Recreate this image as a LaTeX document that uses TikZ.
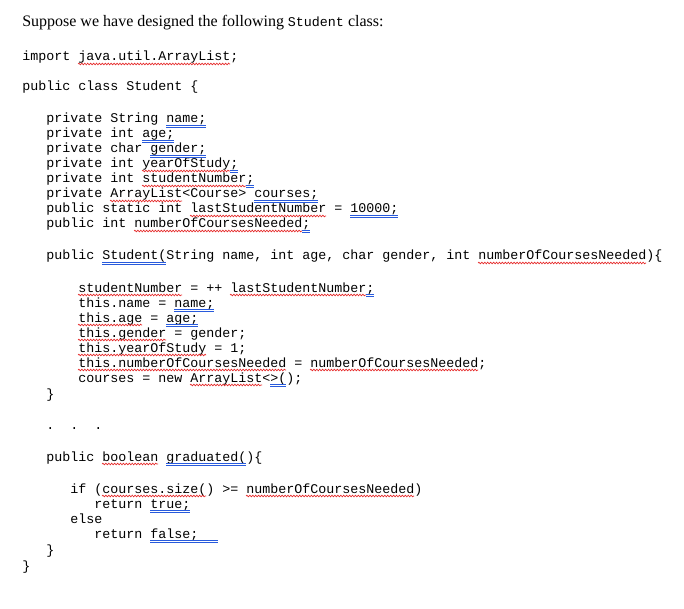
\documentclass[tikz,border=0pt]{standalone}
\usepackage{fontspec}
\setmainfont{Liberation Serif}
\setmonofont{Liberation Mono}
\usetikzlibrary{decorations.pathmorphing}
\definecolor{spellred}{RGB}{230,40,40}
\definecolor{grammarblue}{RGB}{40,90,220}
\newcommand\wv[4]{\draw[wavyline] ({#1+8*#2},{#4+7}) -- ({#1+8*#3},{#4+7});}
\newcommand\db[4]{\draw[dblline] ({#1+8*#2},{#4+6}) -- ({#1+8*#3},{#4+6});
  \draw[dblline] ({#1+8*#2},{#4+8.5}) -- ({#1+8*#3},{#4+8.5});}
\begin{document}
\begin{tikzpicture}[x=0.75pt,y=-0.75pt,
                   code/.style={anchor=base west, inner sep=0pt, font=\ttfamily\fontsize{10}{12}\selectfont},
                   wavyline/.style={spellred, line width=0.5pt, decorate, decoration={snake, amplitude=0.6pt, segment length=2.2pt}},
                   dblline/.style={grammarblue, line width=0.6pt}]
\useasboundingbox[fill=white] (0,0) rectangle (684,609);
\node[anchor=base west, inner sep=0pt, font=\fontsize{12}{14}\selectfont] (title) at (22,27)
	{Suppose we have designed the following \texttt{\fontsize{10}{12}\selectfont Student} class:};
% header
\node[code] (imp) at (22,61) {import java.util.ArrayList;};
\node[code] (cls) at (22,91) {public class Student \{};
% fields
\node[code] (f1) at (46,123) {private String name;};
\node[code] (f2) at (46,138) {private int age;};
\node[code] (f3) at (46,153) {private char gender;};
\node[code] (f4) at (46,168) {private int yearOfStudy;};
\node[code] (f5) at (46,183) {private int studentNumber;};
\node[code] (f6) at (46,198) {private ArrayList<Course> courses;};
\node[code] (f7) at (46,213) {public static int lastStudentNumber = 10000;};
\node[code] (f8) at (46,228) {public int numberOfCoursesNeeded;};
% constructor
\node[code] (ctor) at (46,260) {public Student(String name, int age, char gender, int numberOfCoursesNeeded)\{};
\node[code] (b1) at (78,292) {studentNumber = ++ lastStudentNumber;};
\node[code] (b2) at (78,307) {this.name = name;};
\node[code] (b3) at (78,322) {this.age = age;};
\node[code] (b4) at (78,337) {this.gender = gender;};
\node[code] (b5) at (78,352) {this.yearOfStudy = 1;};
\node[code] (b6) at (78,367) {this.numberOfCoursesNeeded = numberOfCoursesNeeded;};
\node[code] (b7) at (78,382) {courses = new ArrayList<>();};
\node[code] (c1) at (46,398) {\}};
\node[code] (dots) at (46,429) {.\ \ .\ \ .};
% method
\node[code] (m0) at (46,461) {public boolean graduated()\{};
\node[code] (m1) at (70,493) {if (courses.size() >= numberOfCoursesNeeded)};
\node[code] (m2) at (94,508) {return true;};
\node[code] (m3) at (70,523) {else};
\node[code] (m4) at (94,538) {return false;};
\node[code] (c2) at (46,554) {\}};
\node[code] (c3) at (22,570) {\}};
% underlines
\wv{22}{7}{26}{57}
\db{46}{15}{20}{119}
\db{46}{12}{16}{134}
\db{46}{13}{20}{149}
\wv{46}{12}{23}{164} \db{46}{23}{24}{164}
\wv{46}{12}{25}{179} \db{46}{25}{26}{179}
\wv{46}{8}{17}{194} \db{46}{26}{34}{194}
\wv{46}{18}{35}{209} \db{46}{38}{44}{209}
\wv{46}{11}{32}{224} \db{46}{32}{33}{224}
\db{46}{7}{15}{256} \wv{46}{54}{75}{256}
\wv{78}{0}{13}{288} \wv{78}{19}{36}{288} \db{78}{36}{37}{288}
\db{78}{12}{17}{303}
\wv{78}{0}{8}{318} \db{78}{11}{15}{318}
\wv{78}{0}{11}{333}
\wv{78}{0}{16}{348}
\wv{78}{0}{26}{363} \wv{78}{29}{50}{363}
\wv{78}{14}{23}{378} \db{78}{24}{26}{378}
\wv{46}{7}{14}{457} \db{46}{15}{25}{457}
\wv{70}{4}{17}{489} \wv{70}{22}{43}{489}
\db{94}{7}{12}{504}
\db{94}{7}{15.5}{534}
\end{tikzpicture}
\end{document}
